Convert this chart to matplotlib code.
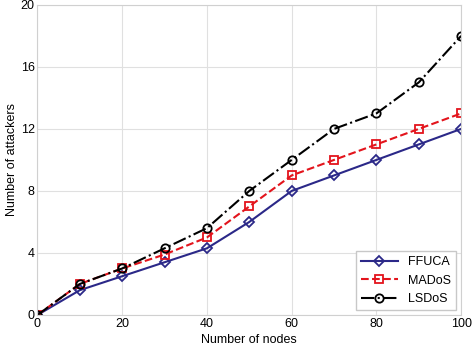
import matplotlib
matplotlib.use("Agg")
import matplotlib.pyplot as plt

plt.rcParams['font.family'] = ['Liberation Sans', 'DejaVu Sans']

# values
nodes = [0, 10, 20, 30, 40, 50, 60, 70, 80, 90, 100]
ffuca = [0, 1.6, 2.5, 3.4, 4.3, 6, 8, 9, 10, 11, 12]
mados = [0, 2, 3, 3.9, 5, 7, 9, 10, 11, 12, 13]
lsdos = [0, 2, 3, 4.3, 5.6, 8, 10, 12, 13, 15, 18]

fig = plt.figure(figsize=(4.74, 3.45), dpi=100)
ax = fig.add_axes([0.079, 0.087, 0.894, 0.899])

ax.plot(nodes, ffuca, '-', color='#2b2888', marker='D', markersize=5,
        markerfacecolor='none', markeredgewidth=1.3, lw=1.5, label='FFUCA')
ax.plot(nodes, mados, '--', color='#e3141c', marker='s', markersize=6,
        markerfacecolor='none', markeredgewidth=1.3, lw=1.5, label='MADoS')
ax.plot(nodes, lsdos, '-.', color='black', marker='o', markersize=6,
        markerfacecolor='none', markeredgewidth=1.3, lw=1.5, label='LSDoS')

ax.set_xlim(0, 100)
ax.set_ylim(0, 20)
ax.set_xticks([0, 20, 40, 60, 80, 100])
ax.set_yticks([0, 4, 8, 12, 16, 20])
ax.grid(True, color='#e0e0e0', lw=0.8)
ax.set_axisbelow(True)
for s in ax.spines.values():
    s.set_color('#d0d0d0')
ax.tick_params(length=0, labelsize=9, pad=2)

ax.set_xlabel('Number of nodes', fontsize=9, labelpad=3)
ax.set_ylabel('Number of attackers', fontsize=9, labelpad=2)

leg = ax.legend(loc='lower right', fontsize=9, fancybox=False, framealpha=1,
                edgecolor='#c8c8c8', handlelength=3, borderaxespad=0.4)

fig.savefig('out.png', dpi=100)
